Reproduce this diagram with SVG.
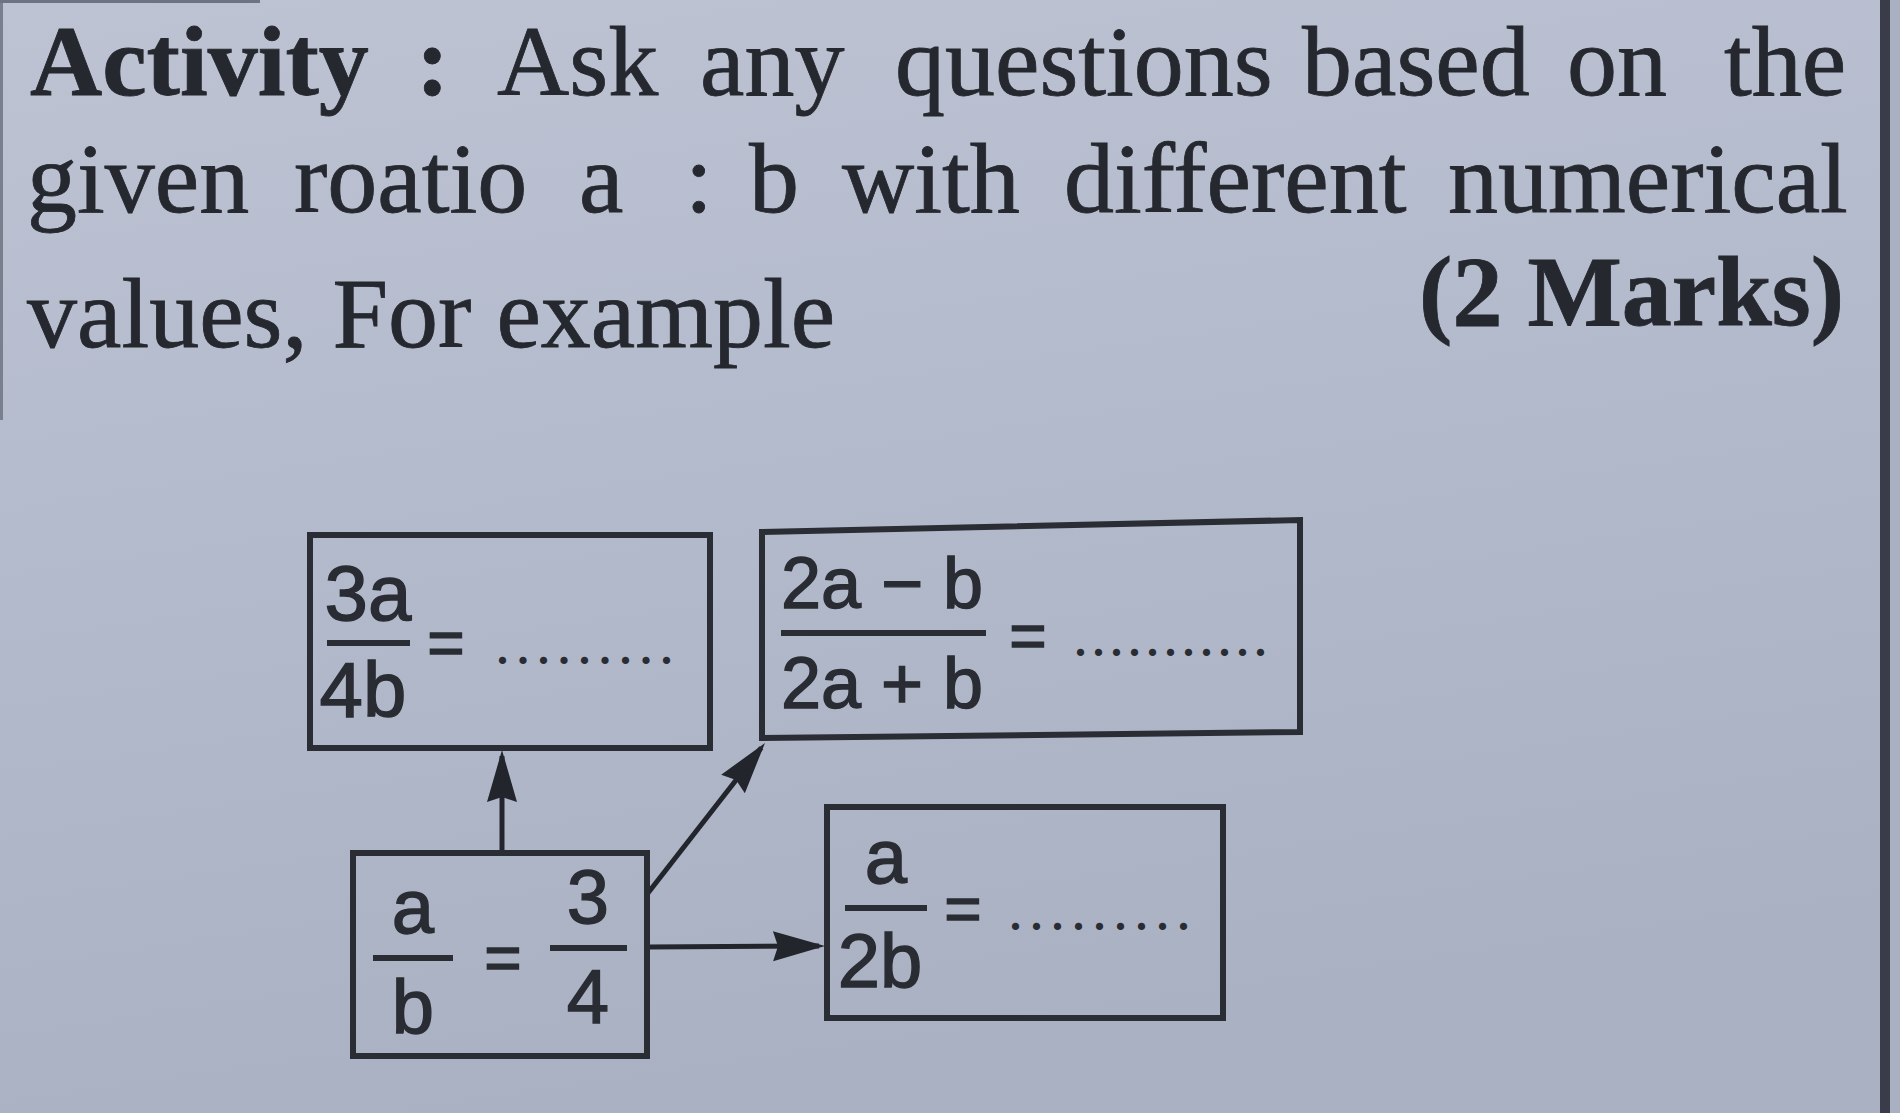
<svg xmlns="http://www.w3.org/2000/svg" width="1900" height="1113" viewBox="0 0 1900 1113">
<defs>
  <linearGradient id="bg" x1="0" y1="0" x2="0.25" y2="1">
    <stop offset="0" stop-color="#bdc3d3"/>
    <stop offset="0.5" stop-color="#b3bacb"/>
    <stop offset="1" stop-color="#aab1c3"/>
  </linearGradient>
  <marker id="ah" markerUnits="userSpaceOnUse" markerWidth="52" markerHeight="36" viewBox="0 0 52 36" refX="46" refY="18" orient="auto">
    <path d="M0,3 L52,18 L0,33 L5,18 Z" fill="#23252c"/>
  </marker>
  <style>
    .t { font-family: "Liberation Serif", "Times New Roman", serif; font-size: 100px; fill: #26282f; stroke: #26282f; stroke-width: 0.8px; }
    .b { font-weight: bold; }
    .m { font-family: "Liberation Sans", Arial, sans-serif; fill: #2a2c33; stroke: #2a2c33; stroke-width: 1.4px; text-anchor: middle; }
    .box { fill: none; stroke: #2b2d35; stroke-width: 6; stroke-linejoin: miter; }
    .bar { stroke: #2b2d35; stroke-width: 6; }
    .dots { font-family: "Liberation Serif", "Times New Roman", serif; font-size: 44px; font-weight: bold; fill: #2a2c33; }
    .conn { stroke: #23252c; stroke-width: 5; fill: none; }
  </style>
</defs>

<rect x="0" y="0" width="1900" height="1113" fill="url(#bg)"/>
<rect x="1880" y="0" width="10" height="1113" fill="#3a3d49"/>
<rect x="1890" y="0" width="10" height="1113" fill="#a9b0c1"/>
<line x1="1.5" y1="0" x2="1.5" y2="420" stroke="#7a7f8e" stroke-width="3"/>
<line x1="0" y1="1.5" x2="260" y2="1.5" stroke="#6e7383" stroke-width="3"/>

<g id="heading">
  <text class="t" y="95"><tspan class="b" x="30">Activity </tspan><tspan class="b" x="416">: </tspan><tspan x="497">Ask </tspan><tspan x="700">any </tspan><tspan x="895">questions </tspan><tspan x="1302">based </tspan><tspan x="1567">on </tspan><tspan x="1724">the</tspan></text>
  <text class="t" y="212"><tspan x="27">given </tspan><tspan x="294">roatio </tspan><tspan x="579">a </tspan><tspan x="685">: </tspan><tspan x="749">b </tspan><tspan x="842">with </tspan><tspan x="1064">different </tspan><tspan x="1448">numerical</tspan></text>
  <text class="t" x="27" y="347">values, For example</text>
  <text class="t b" x="1844" y="325" text-anchor="end">(2 Marks)</text>
</g>

<g id="connectors">
  <line class="conn" x1="502" y1="852" x2="502" y2="756" marker-end="url(#ah)"/>
  <line class="conn" x1="648" y1="893" x2="761.3" y2="747.7" marker-end="url(#ah)"/>
  <line class="conn" x1="649" y1="947" x2="819" y2="946" marker-end="url(#ah)"/>
</g>

<g id="node-3a-4b">
  <rect class="box" x="310" y="535" width="400" height="213"/>
  <text class="m" x="368" y="620" font-size="78">3a</text>
  <line class="bar" x1="327" y1="643" x2="410" y2="643"/>
  <text class="m" x="363" y="717" font-size="78">4b</text>
  <text class="m" x="446" y="665" font-size="64">=</text>
  <text class="dots" x="497" y="664" letter-spacing="9.5">.........</text>
</g>

<g id="node-2a-b">
  <path class="box" d="M762,532 L1300,520 L1300,732 L762,738 Z"/>
  <text class="m" x="882" y="608" font-size="72">2a − b</text>
  <line class="bar" x1="781" y1="633" x2="986" y2="633"/>
  <text class="m" x="882" y="708" font-size="72">2a + b</text>
  <text class="m" x="1028" y="658" font-size="64">=</text>
  <text class="dots" x="1075" y="656" letter-spacing="7">...........</text>
</g>

<g id="node-a-b">
  <rect class="box" x="353" y="853" width="294" height="203"/>
  <text class="m" x="413" y="933" font-size="76">a</text>
  <line class="bar" x1="373" y1="958" x2="453" y2="958"/>
  <text class="m" x="413" y="1033" font-size="76">b</text>
  <text class="m" x="503" y="980" font-size="64">=</text>
  <text class="m" x="588" y="923" font-size="76">3</text>
  <line class="bar" x1="550" y1="948" x2="627" y2="948"/>
  <text class="m" x="588" y="1023" font-size="76">4</text>
</g>

<g id="node-a-2b">
  <rect class="box" x="827" y="807" width="396" height="211"/>
  <text class="m" x="886" y="883" font-size="76">a</text>
  <line class="bar" x1="845" y1="908" x2="927" y2="908"/>
  <text class="m" x="880" y="987" font-size="76">2b</text>
  <text class="m" x="963" y="931" font-size="64">=</text>
  <text class="dots" x="1010" y="930" letter-spacing="10">.........</text>
</g>
</svg>
